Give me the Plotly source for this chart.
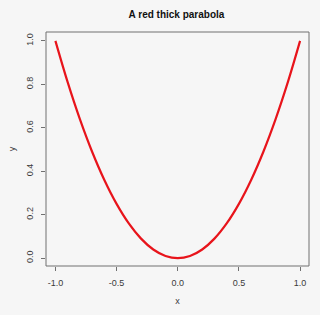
import plotly.graph_objects as go

x_vals = [-1.0, -0.9, -0.8, -0.7, -0.6, -0.5, -0.4, -0.3, -0.2, -0.1, 0.0,
          0.1, 0.2, 0.3, 0.4, 0.5, 0.6, 0.7, 0.8, 0.9, 1.0]
y_vals = [1.00, 0.81, 0.64, 0.49, 0.36, 0.25, 0.16, 0.09, 0.04, 0.01, 0.00,
          0.01, 0.04, 0.09, 0.16, 0.25, 0.36, 0.49, 0.64, 0.81, 1.00]
x_ticks = [-1.0, -0.5, 0.0, 0.5, 1.0]
x_tick_text = ["-1.0", "-0.5", "0.0", "0.5", "1.0"]
y_ticks = [0.0, 0.2, 0.4, 0.6, 0.8, 1.0]
y_tick_text = ["0.0", "0.2", "0.4", "0.6", "0.8", "1.0"]

bg = "#f6f6f6"
axis_col = "#707070"
text_col = "#3a3a3a"
font = "Liberation Sans, Arial, sans-serif"

fig = go.Figure()
fig.add_trace(go.Scatter(x=x_vals, y=y_vals, mode="lines",
                         line=dict(color="#e8141b", width=2.2, shape="spline"),
                         hoverinfo="skip"))

fig.update_layout(
    width=320, height=315,
    margin=dict(l=44, r=11, t=32, b=46),
    paper_bgcolor=bg, plot_bgcolor=bg,
    showlegend=False,
    font=dict(family=font, size=9, color=text_col),
    title=dict(text="<b>A red thick parabola</b>", x=(44 + 309) / 2 / 320, xanchor="center",
               y=1 - 14 / 315, yanchor="middle", font=dict(size=10, color="#111111")),
)
fig.update_xaxes(range=[-1.077, 1.073], tickvals=x_ticks, ticktext=x_tick_text,
                 ticks="outside", ticklen=4, tickcolor=axis_col, tickwidth=1,
                 showgrid=False, zeroline=False, showline=False,
                 ticklabelstandoff=4,
                 title=dict(text="x", standoff=10, font=dict(size=9)))
fig.update_yaxes(range=[-0.036, 1.041], tickvals=y_ticks, ticktext=y_tick_text,
                 ticks="outside", ticklen=4, tickcolor=axis_col, tickwidth=1,
                 showgrid=False, zeroline=False, showline=False,
                 tickangle=-90, ticklabelstandoff=4,
                 title=dict(text="y", standoff=8, font=dict(size=9)))
fig.add_shape(type="rect", xref="paper", yref="paper", x0=0, y0=0, x1=1, y1=1,
              line=dict(color=axis_col, width=1))

fig.write_html("out.html")
